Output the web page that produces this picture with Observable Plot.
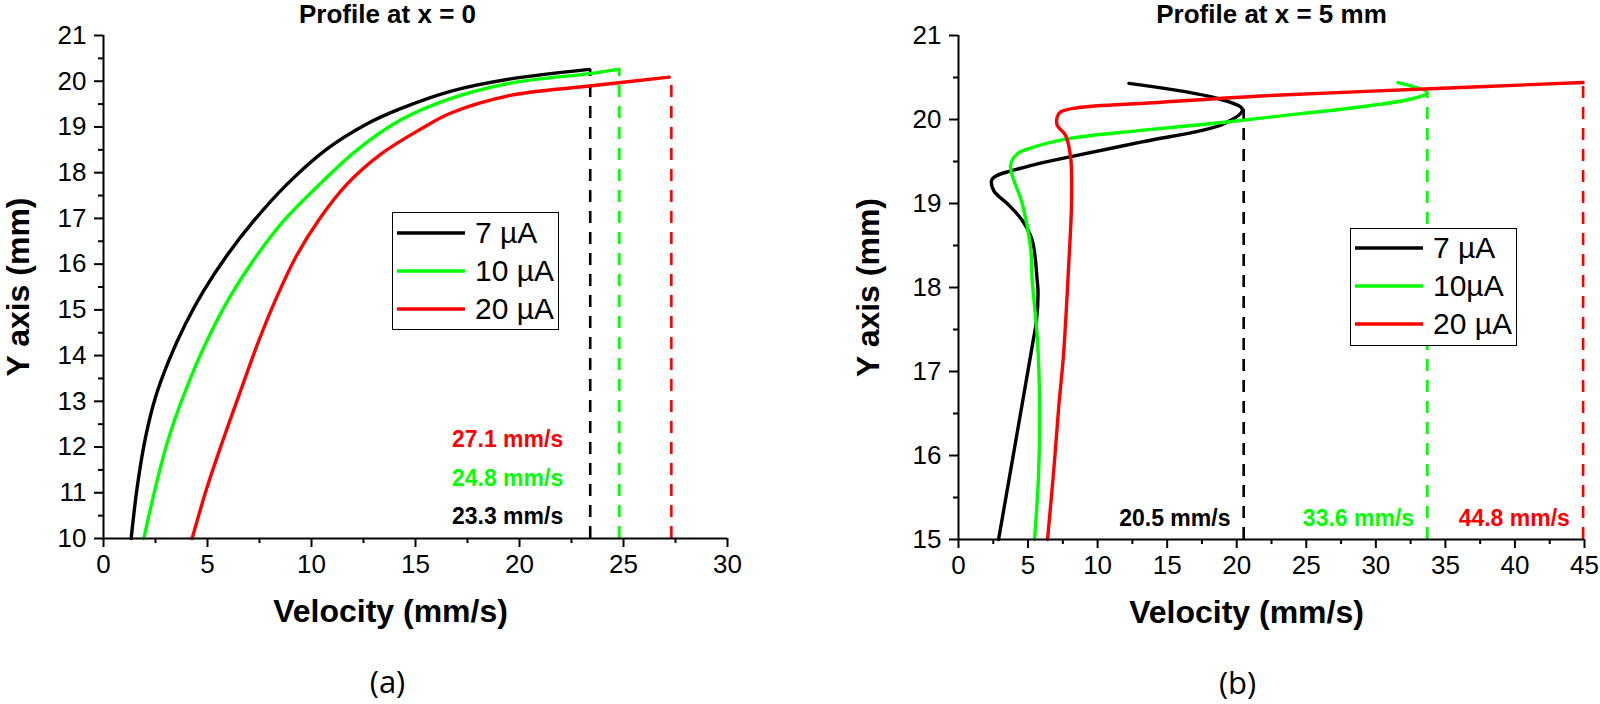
<!DOCTYPE html>
<html>
<head>
<meta charset="utf-8">
<script src="https://cdn.jsdelivr.net/npm/d3@7"></script>
<script src="https://cdn.jsdelivr.net/npm/@observablehq/plot@0.6"></script>
<style>
  html, body { margin: 0; padding: 0; background: #fff; }
  #wrap { position: relative; width: 1600px; height: 704px; overflow: hidden; font-family: "Liberation Sans", Arial, sans-serif; }
  .panel { position: absolute; top: 0; }
  .legend { position: absolute; border: 1.5px solid #000; box-sizing: border-box; background: #fff; }
  .legend .row { display: flex; align-items: center; height: 38px; }
  .legend .row svg { margin-left: 4px; margin-right: 10px; }
  .legend .row span { font-size: 30px; line-height: 38px; color: #000; }
</style>
</head>
<body>
<div id="wrap"></div>
<script>
// ---------------- DATA ----------------
const seriesNames = ["7 µA", "10 µA", "20 µA"];
const seriesNamesB = ["7 µA", "10µA", "20 µA"];
const seriesColors = ["#000000", "#00ff00", "#ff0000"];

// Panel (a): Profile at x = 0
const aBlackV = [1.33, 1.62, 2.02, 2.5, 3.14, 3.94, 4.82, 5.95, 7.23, 8.83, 10.75, 12.68, 14.28, 16.68, 19.57, 23.35];
const aBlackY = [10.0, 11.12, 12.21, 13.09, 13.89, 14.69, 15.42, 16.2, 16.95, 17.75, 18.52, 19.07, 19.40, 19.78, 20.05, 20.26];
const aGreenV = [1.94, 2.5, 3.14, 3.94, 4.98, 6.1, 7.39, 8.67, 10.4, 12.2, 14.28, 16.68, 19.57, 23.25, 24.78];
const aGreenY = [10.0, 11.12, 12.21, 13.23, 14.33, 15.3, 16.2, 16.95, 17.75, 18.5, 19.15, 19.62, 19.96, 20.16, 20.26];
const aRedV = [4.26, 4.98, 5.79, 6.59, 7.47, 8.35, 9.3, 10.4, 11.71, 13.32, 15.24, 16.68, 19.57, 23.25, 27.2];
const aRedY = [10.0, 11.12, 12.21, 13.23, 14.33, 15.3, 16.2, 17.0, 17.75, 18.4, 18.95, 19.3, 19.69, 19.89, 20.09];
const aPeakV = [23.4, 24.8, 27.3];
const aPeakTop = [20.26, 20.26, 20.09];
const aPeakLabels = ["23.3 mm/s", "24.8 mm/s", "27.1 mm/s"];

// Panel (b): Profile at x = 5 mm
const bBlackV = [2.88, 5.35, 5.6, 5.72, 5.66, 5.3, 4.58, 3.5, 2.54, 2.42, 5.18, 7.82, 13.1, 19.09, 20.41, 18.61, 12.25];
const bBlackY = [15.0, 17.35, 17.6, 17.93, 18.08, 18.56, 18.8, 19.0, 19.15, 19.29, 19.45, 19.55, 19.73, 19.95, 20.12, 20.25, 20.43];
const bGreenV = [5.47, 5.76, 5.83, 5.68, 5.3, 5.18, 4.58, 3.74, 4.22, 5.18, 7.82, 13.1, 19.33, 24.6, 28.4, 32.7, 33.7, 31.6];
const bGreenY = [15.0, 15.79, 16.57, 17.37, 18.08, 18.48, 19.0, 19.45, 19.59, 19.66, 19.77, 19.87, 19.97, 20.07, 20.14, 20.25, 20.32, 20.44];
const bRedV = [6.4, 6.83, 7.2, 7.55, 7.9, 8.13, 8.06, 7.7, 7.1, 7.1, 7.34, 8.54, 14.0, 21.7, 33.0, 44.9];
const bRedY = [15.0, 15.79, 16.57, 17.2, 18.2, 19.04, 19.55, 19.81, 19.93, 20.03, 20.09, 20.14, 20.2, 20.28, 20.36, 20.44];
const bPeakV = [20.5, 33.7, 44.9];
const bPeakTop = [20.12, 20.32, 20.44];
const bPeakLabels = ["20.5 mm/s", "33.6 mm/s", "44.8 mm/s"];

// Ticks
const aXTicks = [0, 5, 10, 15, 20, 25, 30];
const aXMinor = [2.5, 7.5, 12.5, 17.5, 22.5, 27.5];
const aYTicks = [10, 11, 12, 13, 14, 15, 16, 17, 18, 19, 20, 21];
const aYMinor = [10.5, 11.5, 12.5, 13.5, 14.5, 15.5, 16.5, 17.5, 18.5, 19.5, 20.5];
const bXTicks = [0, 5, 10, 15, 20, 25, 30, 35, 40, 45];
const bXMinor = [2.5, 7.5, 12.5, 17.5, 22.5, 27.5, 32.5, 37.5, 42.5];
const bYTicks = [15, 16, 17, 18, 19, 20, 21];
const bYMinor = [15.5, 16.5, 17.5, 18.5, 19.5, 20.5];

// ---------------- BUILD ----------------
function toRows(vs, ys, s) { return vs.map((v, i) => ({v, y: ys[i], s})); }

function makePanel(cfg) {
  const lines = [];
  cfg.series.forEach(([vs, ys], i) => lines.push(...toRows(vs, ys, i)));
  const peaks = cfg.peakV.map((v, i) => ({v, top: cfg.peakTop[i], s: i, label: cfg.peakLabels[i]}));
  const y0 = cfg.yDomain[0];
  const color = (d) => seriesColors[d.s];
  return Plot.plot({
    width: cfg.width,
    height: 704,
    marginLeft: cfg.marginLeft,
    marginRight: cfg.marginRight,
    marginTop: 35,
    marginBottom: cfg.marginBottom,
    style: {fontFamily: "Liberation Sans, Arial, sans-serif", fontSize: "26px", color: "#000", background: "#fff", overflow: "visible"},
    x: {domain: cfg.xDomain},
    y: {domain: cfg.yDomain},
    marks: [
      Plot.ruleX(peaks, {x: "v", y1: y0, y2: "top", stroke: color, strokeWidth: 2.6, strokeDasharray: "12,9"}),
      Plot.line(lines, {x: "v", y: "y", z: "s", stroke: color, strokeWidth: 3.4, curve: "catmull-rom"}),
      ...peaks.map((p) => Plot.text([p], {x: (d) => cfg.labelX(d), y: y0, dy: cfg.labelDy(p), text: "label", fill: color,
        textAnchor: "end", fontWeight: "bold", fontSize: 23, lineAnchor: "middle"})),
      Plot.axisX({ticks: cfg.xTicks, tickSize: 9, tickPadding: 7, tickFormat: (d) => String(d), label: null, strokeWidth: 2, fontSize: 26}),
      Plot.axisX({ticks: cfg.xMinor, tickSize: 5, tickFormat: () => "", label: null, strokeWidth: 2}),
      Plot.axisY({ticks: cfg.yTicks, tickSize: 9, tickPadding: 8, tickFormat: (d) => String(d), label: null, strokeWidth: 2, fontSize: 26}),
      Plot.axisY({ticks: cfg.yMinor, tickSize: 5, tickFormat: () => "", label: null, strokeWidth: 2}),
      Plot.ruleY([y0], {stroke: "#000", strokeWidth: 2}),
      Plot.ruleX([cfg.xDomain[0]], {stroke: "#000", strokeWidth: 2}),
      Plot.text([cfg.title], {frameAnchor: "top", textAnchor: "middle", dx: cfg.titleDx, dy: -21, fontWeight: "bold", fontSize: 26, lineAnchor: "middle"}),
      Plot.text(["Velocity (mm/s)"], {frameAnchor: "bottom", textAnchor: "middle", dx: -25, dy: 73, fontWeight: "bold", fontSize: 32, lineAnchor: "middle"}),
      Plot.text(["Y axis (mm)"], {frameAnchor: "left", textAnchor: "middle", dx: cfg.yLabelDx, rotate: -90, fontWeight: "bold", fontSize: 32, lineAnchor: "middle"}),
      Plot.text([cfg.letter], {frameAnchor: "bottom", textAnchor: "middle", dx: cfg.letterDx, dy: 145, fontFamily: "Open Sans, sans-serif", fontSize: 31, lineAnchor: "middle"})
    ]
  });
}

const wrap = document.getElementById("wrap");

const a = makePanel({
  width: 800, marginLeft: 103, marginRight: 73, marginBottom: 166,
  xDomain: [0, 30], yDomain: [10, 21],
  xTicks: aXTicks, xMinor: aXMinor, yTicks: aYTicks, yMinor: aYMinor,
  series: [[aBlackV, aBlackY], [aGreenV, aGreenY], [aRedV, aRedY]],
  peakV: aPeakV, peakTop: aPeakTop, peakLabels: aPeakLabels,
  // labels stacked just left of the black dashed line
  labelX: () => aPeakV[0] - 1.3,
  labelDy: (p) => [-22, -60, -99][p.s],
  title: "Profile at x = 0", titleDx: -28, yLabelDx: -85, letter: "(a)", letterDx: -28
});
const b = makePanel({
  width: 800, marginLeft: 158, marginRight: 16, marginBottom: 165,
  xDomain: [0, 45], yDomain: [15, 21],
  xTicks: bXTicks, xMinor: bXMinor, yTicks: bYTicks, yMinor: bYMinor,
  series: [[bBlackV, bBlackY], [bGreenV, bGreenY], [bRedV, bRedY]],
  peakV: bPeakV, peakTop: bPeakTop, peakLabels: bPeakLabels,
  labelX: (d) => d.v - 0.95,
  labelDy: () => -21,
  title: "Profile at x = 5 mm", titleDx: 0, yLabelDx: -90, letter: "(b)", letterDx: -34
});
a.classList.add("panel"); a.style.left = "0px";
b.classList.add("panel"); b.style.left = "800px";
wrap.appendChild(a);
wrap.appendChild(b);

function legend(names, left, top, padTop) {
  const box = document.createElement("div");
  box.className = "legend";
  Object.assign(box.style, {left: left + "px", top: top + "px", width: "167px", height: "118px", paddingTop: padTop + "px"});
  names.forEach((n, i) => {
    const row = document.createElement("div");
    row.className = "row";
    row.innerHTML = `<svg width="68" height="6"><line x1="0" x2="68" y1="3" y2="3" stroke="${seriesColors[i]}" stroke-width="3.4"/></svg><span>${n}</span>`;
    box.appendChild(row);
  });
  wrap.appendChild(box);
}
legend(seriesNames, 392, 212, 1);
legend(seriesNamesB, 1350, 228, 0);
</script>
</body>
</html>
